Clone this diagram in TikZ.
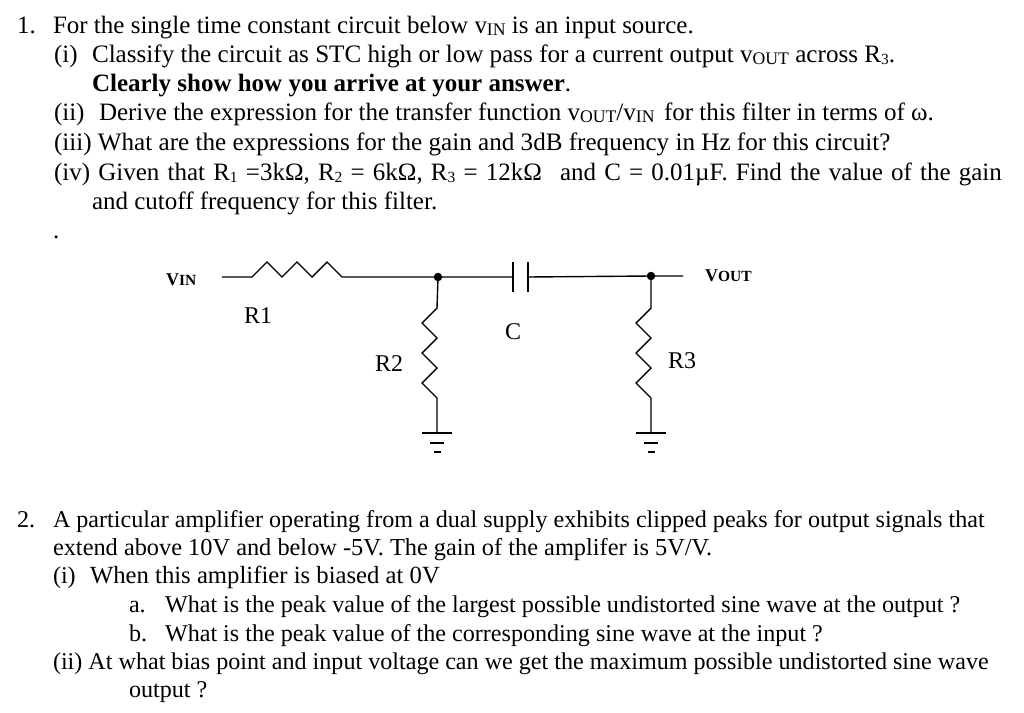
\documentclass[tikz,border=0pt]{standalone}
\usepackage{fontspec}
\setmainfont{Liberation Serif}
\newcommand{\lowsub}[1]{\raisebox{-2.5pt}{\fontsize{17.7}{17.7}\selectfont #1}}
\newcommand{\tinysub}[1]{\raisebox{-2.5pt}{\fontsize{15.5}{15.5}\selectfont #1}}
\newcommand{\smallrest}[1]{{\fontsize{15.5}{15.5}\selectfont #1}}
\tikzset{
  txt/.style={anchor=base west,inner sep=0pt,outer sep=0pt,font=\fontsize{25}{25}\selectfont},
  txtw/.style={anchor=base west,inner sep=0pt,outer sep=0pt,font=\fontsize{25.12}{25.12}\selectfont},
  txtb/.style={anchor=base west,inner sep=0pt,outer sep=0pt,font=\fontsize{24.1}{24.1}\selectfont},
  lab/.style={anchor=base west,inner sep=0pt,outer sep=0pt,font=\fontsize{24}{24}\selectfont},
  sig/.style={anchor=base west,inner sep=0pt,outer sep=0pt,font=\fontsize{18}{18}\selectfont\bfseries},
  wire/.style={line width=1.4pt,line join=miter},
  dotn/.style={circle,fill=black,inner sep=0pt,minimum size=8.5pt},
}
\begin{document}
\begin{tikzpicture}[x=1pt,y=-1pt]
\useasboundingbox (0,0) rectangle (1024,712);
% question 1
\node[txt] (a1) at (17,33) {1.};
\node[txt] (a2) at (53,33) {For the single time constant circuit below v\lowsub{IN} is an input source.};
\node[txt] (b1) at (54,62) {(i)};
\node[txtw] (b2) at (92,62) {Classify the circuit as STC high or low pass for a current output v\lowsub{OUT} across R\tinysub{3}.};
\node[txt] (c1) at (92,91) {\bfseries Clearly show how you arrive at your answer\normalfont.};
\node[txt] (d1) at (54,120) {(ii)};
\node[txt] (d2) at (99,120) {Derive the expression for the transfer function v\lowsub{OUT}/v\lowsub{IN}};
\node[txt] (d3) at (664,120) {for this filter in terms of ω.};
\node[txtw] (e1) at (54,150) {(iii) What are the expressions for the gain and 3dB frequency in Hz for this circuit?};
\node[txt] (f1) at (54,180) {\spaceskip=8.2pt (iv) Given that R\tinysub{1} =3kΩ, R\tinysub{2} = 6kΩ, R\tinysub{3} = 12kΩ};
\node[txt] (f2) at (560,180) {\spaceskip=8.2pt and C = 0.01µF. Find the value of the gain};
\node[txt] (g1) at (92,209) {and cutoff frequency for this filter.};
\node[txt] (h1) at (53,238) {.};
% circuit
\coordinate (vin) at (222,277);
\coordinate (r1a) at (252,277);
\coordinate (r1b) at (342,277);
\node[dotn] (n1) at (438,277) {};
\coordinate (c1a) at (513,277);
\coordinate (c1b) at (528,277);
\node[dotn] (n2) at (651,276) {};
\coordinate (vout) at (683,276);
\coordinate (g2) at (437,433);
\coordinate (g3) at (651,433);
\draw[wire] (vin) -- (r1a) -- (267,262) -- (282,277) -- (297,262) -- (312,277) -- (327,262) -- (r1b) -- (n1.center) -- (c1a);
\draw[wire] (513,262) -- (513,292);
\draw[wire] (528,262) -- (528,292);
\draw[wire] (c1b) -- (n2.center) -- (vout);
\draw[wire] (n1.center) -- (437,308) -- (422,323) -- (437,338) -- (422,353) -- (437,368) -- (422,383) -- (437,398) -- (g2);
\draw[wire] (n2.center) -- (651,308) -- (636,323) -- (651,338) -- (636,353) -- (651,368) -- (636,383) -- (651,398) -- (g3);
\draw[wire] (422,433) -- (452,433);
\draw[wire] (430,443) -- (444,443);
\draw[wire] (434,452) -- (441,452);
\draw[wire] (636,433) -- (666,433);
\draw[wire] (644,443) -- (658,443);
\draw[wire] (648,452) -- (655,452);
\node[sig] (lvin) at (166,285) {V\smallrest{IN}};
\node[sig] (lvout) at (705,281) {V\smallrest{OUT}};
\node[lab] (lr1) at (244,323) {R1};
\node[lab] (lr2) at (375,371) {R2};
\node[lab] (lc) at (505,339) {C};
\node[lab] (lr3) at (668,368) {R3};
% question 2
\node[txtb] (p1) at (17,527) {2.};
\node[txtb] (p2) at (53,527) {A particular amplifier operating from a dual supply exhibits clipped peaks for output signals that};
\node[txtb,font=\fontsize{24.35}{24.35}\selectfont] (q1) at (53,555) {extend above 10V and below -5V. The gain of the amplifer is 5V/V.};
\node[txtb] (r1) at (53,583) {(i)};
\node[txtb,font=\fontsize{24.7}{24.7}\selectfont] (r2) at (90,583) {When this amplifier is biased at 0V};
\node[txtb] (s1) at (129,612) {a.};
\node[txtb] (s2) at (165,612) {What is the peak value of the largest possible undistorted sine wave at the output ?};
\node[txtb] (t1) at (129,641) {b.};
\node[txtb] (t2) at (165,641) {What is the peak value of the corresponding sine wave at the input ?};
\node[txtb] (u1) at (53,669) {(ii) At what bias point and input voltage can we get the maximum possible undistorted sine wave};
\node[txtb] (v1) at (129,697) {output ?};
\end{tikzpicture}
\end{document}
